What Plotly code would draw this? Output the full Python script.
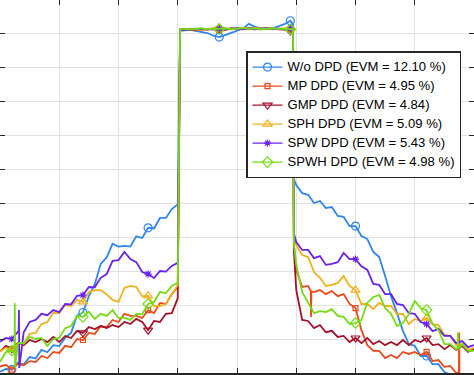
import plotly.graph_objects as go

# ---------------- data (frequency in MHz, PSD in dB) ----------------
X_LEFT = list(range(-40, -9))            # -40 ... -10
X_MID = [-9.6, -9, -8, -7, -6, -5, -4, -3, -2, -1, 0, 1, 2, 3, 4, 5, 6, 7, 8, 9, 9.45]
X_EDGE = [9.6]
X_RIGHT = list(range(10, 41))            # 10 ... 40
MARKER_X = [-38, -26, -15, -3, 9, 20, 32]

NAMES = ["W/o DPD (EVM = 12.10 %)", "MP DPD (EVM = 4.95 %)", "GMP DPD (EVM = 4.84)",
         "SPH DPD (EVM = 5.09 %)", "SPW DPD (EVM = 5.43 %)", "SPWH DPD (EVM = 4.98 %)"]

WO_LEFT = [-109.6, -108.8, -109.0, -106.9, -107.5, -105.3, -105.7, -103.2, -103.9, -101.8,
           -102.1, -99.6, -98.2, -93.1, -92.2, -87.4, -83.9, -77.9, -76.0, -72.0,
           -72.8, -72.6, -72.8, -69.8, -70.3, -67.3, -67.5, -64.4, -64.4, -61.8, -60.4]
WO_MID = [-9.2, -9.3, -9.0, -9.4, -9.6, -10.0, -10.8, -11.2, -10.6, -9.9, -9.3, -8.7, -7.3,
          -8.2, -8.6, -8.9, -8.6, -8.1, -7.4, -6.4, -7.6]
WO_EDGE = [-53.0]
WO_RIGHT = [-54.7, -57.1, -57.6, -60.0, -59.4, -61.5, -61.2, -63.8, -64.1, -66.8, -66.8,
            -69.7, -70.6, -74.4, -75.9, -81.5, -87.4, -92.4, -97.6, -101.5, -102.0, -105.0,
            -105.0, -107.4, -107.4, -109.7, -110.5, -111.0, -111.5, -112.0, -112.5]

MP_LEFT = [-108.1, -107.6, -109.0, -107.3, -107.7, -106.5, -106.8, -105.0, -105.6, -103.8,
           -104.1, -102.0, -102.4, -100.0, -100.3, -98.2, -98.5, -96.2, -96.5, -94.4,
           -95.0, -92.6, -93.2, -93.2, -93.8, -91.5, -92.4, -89.4, -89.7, -86.8, -84.7]
MP_MID = [-8.9, -9.1, -8.8, -9.2, -8.9, -9.0, -8.7, -9.1, -8.8, -8.6, -8.9, -8.7, -8.8, -8.5,
          -8.8, -8.6, -8.9, -8.7, -8.8, -9.0, -9.3]
MP_EDGE = [-72.0]
MP_RIGHT = [-79.7, -84.7, -84.4, -86.2, -85.6, -86.8, -85.9, -87.4, -86.8, -89.7, -90.9,
            -97.4, -101.8, -103.5, -103.5, -105.6, -104.7, -105.6, -103.8, -104.4, -103.8,
            -104.7, -103.8, -106.5, -106.2, -108.2, -107.9, -110.0, -110.3, -111.0, -111.5]

GMP_LEFT = [-103.7, -102.0, -102.9, -101.2, -101.8, -100.3, -100.9, -100.0, -100.9, -99.4,
            -100.9, -99.1, -99.7, -97.6, -98.2, -96.5, -97.1, -96.2, -96.8, -95.9,
            -96.5, -95.0, -95.6, -94.1, -95.0, -97.4, -94.7, -95.0, -92.6, -92.4, -88.0]
GMP_MID = [-9.0, -8.8, -9.1, -8.9, -8.7, -9.0, -8.8, -8.9, -9.1, -8.8, -8.7, -8.9, -8.6, -8.8,
           -8.9, -8.7, -8.8, -8.9, -9.0, -9.4, -9.6]
GMP_EDGE = [-74.0]
GMP_RIGHT = [-85.6, -94.4, -94.7, -96.8, -95.9, -98.0, -97.6, -99.4, -99.1, -100.9, -99.7,
             -101.2, -99.7, -101.5, -100.6, -101.8, -100.9, -101.8, -100.3, -101.8, -100.3,
             -100.9, -99.7, -101.8, -101.5, -103.0, -101.8, -103.2, -102.0, -103.8, -102.9]

SPH_LEFT = [-103.7, -102.6, -103.1, -101.5, -101.4, -98.5, -98.2, -95.6, -95.0, -92.3,
            -92.4, -90.0, -90.3, -88.5, -89.1, -86.2, -85.6, -85.6, -86.9, -88.5,
            -89.1, -85.0, -84.4, -84.7, -87.4, -87.3, -90.3, -90.3, -89.7, -86.8, -84.1]
SPH_MID = [-8.8, -9.0, -8.7, -8.9, -9.1, -8.8, -8.6, -8.9, -8.7, -8.9, -8.8, -8.6, -8.9, -8.7,
           -8.6, -8.8, -8.7, -8.9, -8.6, -8.8, -9.0]
SPH_EDGE = [-70.0]
SPH_RIGHT = [-72.4, -75.3, -75.9, -80.3, -82.0, -84.4, -84.1, -83.5, -81.5, -84.4, -85.6,
             -89.7, -89.7, -91.2, -89.4, -90.3, -90.3, -92.7, -92.6, -95.6, -94.1, -94.7,
             -93.8, -95.6, -95.9, -98.8, -99.1, -101.8, -101.5, -103.2, -102.6]

SPW_LEFT = [-100.8, -99.7, -100.0, -97.9, -98.0, -95.0, -94.4, -92.6, -93.0, -91.5,
            -92.1, -89.7, -89.8, -87.3, -87.1, -84.7, -84.8, -82.0, -80.9, -77.0,
            -76.8, -74.4, -76.5, -77.4, -80.3, -80.9, -82.1, -80.0, -80.2, -78.5, -77.6]
SPW_MID = [-9.1, -8.9, -9.0, -8.7, -8.9, -8.8, -9.0, -8.7, -8.9, -8.8, -8.6, -8.8, -8.7, -8.9,
           -8.8, -8.6, -8.8, -8.7, -8.9, -8.7, -8.9]
SPW_EDGE = [-69.0]
SPW_RIGHT = [-71.5, -73.8, -73.8, -76.2, -75.6, -78.2, -77.9, -77.4, -74.7, -76.5, -76.5,
             -78.6, -79.7, -83.8, -84.1, -86.8, -86.8, -89.7, -90.0, -92.4, -92.6, -95.0,
             -95.6, -97.7, -97.0, -99.1, -99.1, -101.2, -100.6, -102.4, -101.8]

SPWH_LEFT = [-106.7, -103.8, -103.4, -101.2, -101.2, -99.4, -100.0, -99.7, -102.1, -100.0,
             -99.7, -96.8, -96.2, -93.2, -93.5, -92.0, -94.1, -92.6, -93.2, -91.5,
             -93.8, -93.8, -94.4, -92.6, -92.7, -89.7, -89.1, -86.2, -86.5, -84.4, -83.5]
SPWH_MID = [-8.9, -8.7, -9.0, -8.8, -8.6, -8.9, -8.7, -8.8, -8.6, -8.9, -8.7, -8.5, -8.8, -8.6,
            -8.9, -8.7, -8.6, -8.8, -8.7, -8.9, -8.8]
SPWH_EDGE = [-72.0]
SPWH_RIGHT = [-78.2, -86.2, -89.4, -92.4, -91.8, -92.1, -91.2, -93.2, -93.5, -95.6, -95.3,
              -94.4, -89.4, -87.7, -87.0, -90.9, -92.6, -96.2, -95.3, -92.7, -88.8, -90.9,
              -91.5, -95.6, -97.3, -101.5, -101.5, -103.0, -101.5, -103.5, -103.5]

# narrow single-bin spurs
WO_SPUR_X, WO_SPUR_Y = [], []
MP_SPUR_X = [12.45, 12.5, 12.55, 37.45, 37.5, 37.55]
MP_SPUR_Y = [-85.8, -93.5, -86.0, -109.8, -98.2, -110.2]
GMP_SPUR_X, GMP_SPUR_Y = [], []
SPH_SPUR_X, SPH_SPUR_Y = [], []
SPW_SPUR_X = [-36.85, -36.8, -36.75]
SPW_SPUR_Y = [-98.0, -91.5, -108.5]
SPWH_SPUR_X = [-37.55, -37.5, -37.45, 37.25, 37.3, 37.35]
SPWH_SPUR_Y = [-104.0, -89.5, -108.5, -102.4, -98.0, -103.0]

SERIES = [
    (NAMES[0], WO_LEFT, WO_MID, WO_EDGE, WO_RIGHT, WO_SPUR_X, WO_SPUR_Y),
    (NAMES[1], MP_LEFT, MP_MID, MP_EDGE, MP_RIGHT, MP_SPUR_X, MP_SPUR_Y),
    (NAMES[2], GMP_LEFT, GMP_MID, GMP_EDGE, GMP_RIGHT, GMP_SPUR_X, GMP_SPUR_Y),
    (NAMES[3], SPH_LEFT, SPH_MID, SPH_EDGE, SPH_RIGHT, SPH_SPUR_X, SPH_SPUR_Y),
    (NAMES[4], SPW_LEFT, SPW_MID, SPW_EDGE, SPW_RIGHT, SPW_SPUR_X, SPW_SPUR_Y),
    (NAMES[5], SPWH_LEFT, SPWH_MID, SPWH_EDGE, SPWH_RIGHT, SPWH_SPUR_X, SPWH_SPUR_Y),
]

# ---------------- styles ----------------
COLORS = ["#2f84ee", "#ea4a1c", "#a3122c", "#efb11f", "#6a22ea", "#74dc14"]
SYMBOLS = ["circle-open", "square-open", "triangle-down-open", "triangle-up-open",
           "asterisk-open", "diamond-open"]
MSIZES = [8, 5, 8, 8, 6, 8]
FONT = "Liberation Sans, Arial, Helvetica, sans-serif"
LEGEND_TEXT_PX = 13.1

fig = go.Figure()
for i, (name, yl, ym, ye, yr, sx, sy) in enumerate(SERIES):
    xs = X_LEFT + X_MID + X_EDGE + X_RIGHT + sx
    ys = yl + ym + ye + yr + sy
    pts = sorted(zip(xs, ys), key=lambda p: p[0])
    x = [p[0] for p in pts]
    y = [p[1] for p in pts]
    fig.add_trace(go.Scatter(x=x, y=y, mode="lines", showlegend=False, hoverinfo="skip",
                             line=dict(color=COLORS[i], width=1.8)))
    mx = [p[0] for p in pts if p[0] in MARKER_X]
    my = [p[1] for p in pts if p[0] in MARKER_X]
    fig.add_trace(go.Scatter(x=mx, y=my, mode="markers", showlegend=False,
                             marker=dict(symbol=SYMBOLS[i], size=MSIZES[i], color=COLORS[i],
                                         line=dict(color=COLORS[i], width=1.2))))
    # legend entry
    fig.add_trace(go.Scatter(x=[None], y=[None], mode="lines+markers",
                             name=f"<span style='font-size:{LEGEND_TEXT_PX}px'>{name}</span>",
                             line=dict(color=COLORS[i], width=1.2),
                             marker=dict(symbol=SYMBOLS[i], size=MSIZES[i], color=COLORS[i],
                                         line=dict(color=COLORS[i], width=1.2))))

# dummy trace for the mirrored tick axes
fig.add_trace(go.Scatter(x=[None], y=[None], xaxis="x2", yaxis="y2", showlegend=False))

GRID = "#e2e2e2"
AX = "#262626"
fig.update_layout(
    width=474, height=375,
    margin=dict(l=0, r=0, t=0, b=2),
    paper_bgcolor="white", plot_bgcolor="white",
    font=dict(family=FONT, size=13, color="#000000"),
    showlegend=True,
    legend=dict(x=0.519, y=0.863, xanchor="left", yanchor="top",
                bgcolor="white", bordercolor=AX, borderwidth=1.5,
                font=dict(family=FONT, size=10, color="#000000"),
                tracegroupgap=0),
    xaxis=dict(range=[-40, 40], tick0=0, dtick=10, showgrid=True, gridcolor=GRID,
               gridwidth=1, zeroline=False, ticks="inside", ticklen=5, tickcolor=AX,
               showticklabels=False, showline=True, linecolor=AX, linewidth=2),
    yaxis=dict(range=[-110, -110 + 373 / 3.4], tick0=0, dtick=10, showgrid=True,
               gridcolor=GRID, gridwidth=1, zeroline=False, ticks="inside", ticklen=5,
               tickcolor=AX, showticklabels=False, showline=False),
    xaxis2=dict(overlaying="x", side="top", anchor="y", range=[-40, 40], tick0=0, dtick=10,
                showgrid=False, zeroline=False, ticks="inside", ticklen=5, tickcolor=AX,
                showticklabels=False, showline=False),
    yaxis2=dict(overlaying="y", side="right", anchor="x", range=[-110, -110 + 373 / 3.4],
                tick0=0, dtick=10, showgrid=False, zeroline=False, ticks="inside",
                ticklen=5, tickcolor=AX, showticklabels=False, showline=False),
)

fig.write_html("out.html", config={"displayModeBar": False},
               post_script="document.body.style.margin='0';document.body.style.overflow='hidden';")
